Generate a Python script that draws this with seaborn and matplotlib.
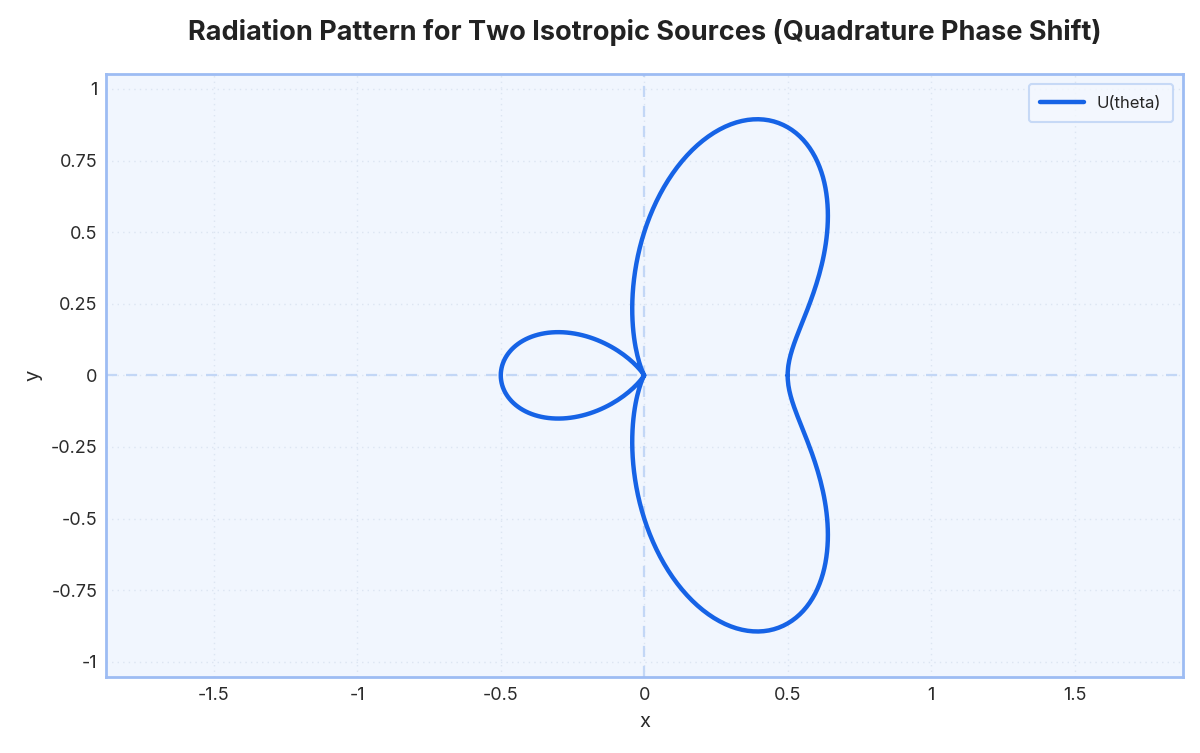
import numpy as np
import pandas as pd
import matplotlib
matplotlib.use("Agg")
import matplotlib.pyplot as plt
from matplotlib.ticker import FuncFormatter, MultipleLocator
import seaborn as sns

# pattern U(theta), upper half (0..180 deg, every 1 deg)
theta_deg = np.arange(0, 181, 1)
u_upper = [
    0.5000, 0.5002, 0.5010, 0.5022, 0.5038, 0.5060, 0.5086, 0.5117, 0.5153, 0.5193,
    0.5239, 0.5288, 0.5343, 0.5402, 0.5466, 0.5534, 0.5607, 0.5684, 0.5766, 0.5852,
    0.5942, 0.6036, 0.6134, 0.6236, 0.6341, 0.6451, 0.6563, 0.6679, 0.6797, 0.6919,
    0.7043, 0.7169, 0.7297, 0.7427, 0.7558, 0.7690, 0.7823, 0.7956, 0.8089, 0.8222,
    0.8353, 0.8483, 0.8611, 0.8736, 0.8859, 0.8978, 0.9094, 0.9205, 0.9311, 0.9411,
    0.9505, 0.9593, 0.9674, 0.9746, 0.9811, 0.9867, 0.9914, 0.9951, 0.9978, 0.9994,
    1.0000, 0.9994, 0.9977, 0.9948, 0.9907, 0.9853, 0.9787, 0.9708, 0.9617, 0.9513,
    0.9397, 0.9268, 0.9127, 0.8973, 0.8809, 0.8632, 0.8445, 0.8247, 0.8039, 0.7821,
    0.7594, 0.7360, 0.7117, 0.6868, 0.6613, 0.6352, 0.6087, 0.5818, 0.5547, 0.5274,
    0.5000, 0.4726, 0.4453, 0.4182, 0.3913, 0.3648, 0.3387, 0.3132, 0.2883, 0.2640,
    0.2406, 0.2179, 0.1961, 0.1753, 0.1555, 0.1368, 0.1191, 0.1027, 0.0873, 0.0732,
    0.0603, 0.0487, 0.0383, 0.0292, 0.0213, 0.0147, 0.0093, 0.0052, 0.0023, 0.0006,
    0.0000, 0.0006, 0.0022, 0.0049, 0.0086, 0.0133, 0.0189, 0.0254, 0.0326, 0.0407,
    0.0495, 0.0589, 0.0689, 0.0795, 0.0906, 0.1022, 0.1141, 0.1264, 0.1389, 0.1517,
    0.1647, 0.1778, 0.1911, 0.2044, 0.2177, 0.2310, 0.2442, 0.2573, 0.2703, 0.2831,
    0.2957, 0.3081, 0.3203, 0.3321, 0.3437, 0.3549, 0.3659, 0.3764, 0.3866, 0.3964,
    0.4058, 0.4148, 0.4234, 0.4316, 0.4393, 0.4466, 0.4534, 0.4598, 0.4657, 0.4712,
    0.4761, 0.4807, 0.4847, 0.4883, 0.4914, 0.4940, 0.4962, 0.4978, 0.4990, 0.4998,
    0.5000,
]
series_label = "U(theta)"
title = "Radiation Pattern for Two Isotropic Sources (Quadrature Phase Shift)"

# pattern is symmetric about the x axis -> mirror for 180..360
u_upper = np.array(u_upper)
ang = np.deg2rad(np.concatenate([theta_deg, 360 - theta_deg[::-1][1:]]))
u_all = np.concatenate([u_upper, u_upper[::-1][1:]])
df = pd.DataFrame({"x": u_all * np.cos(ang), "y": u_all * np.sin(ang)})

sns.set_theme(style="white")
plt.rcParams["font.family"] = ["Inter", "DejaVu Sans"]

fig = plt.figure(figsize=(12, 7.53), dpi=100)
ax = fig.add_axes([106 / 1200, 1 - 677 / 753, (1183 - 106) / 1200, (677 - 74) / 753])
ax.set_facecolor("#f1f6fe")

# dashed zero lines
ax.axhline(0, color="#c3d7f6", lw=1.6, ls=(0, (5, 4)), zorder=1)
ax.axvline(0, color="#c3d7f6", lw=1.6, ls=(0, (5, 4)), zorder=1)

sns.lineplot(data=df, x="x", y="y", sort=False, estimator=None, ax=ax,
             color="#1663e6", lw=3.2, label=series_label, zorder=3)

ax.set_xlim(-1.876, 1.878)
ax.set_ylim(-1.053, 1.052)
ax.xaxis.set_major_locator(MultipleLocator(0.5))
ax.yaxis.set_major_locator(MultipleLocator(0.25))
fmt = FuncFormatter(lambda v, p: "{:g}".format(round(v, 2)))
ax.xaxis.set_major_formatter(fmt)
ax.yaxis.set_major_formatter(fmt)
ax.grid(True, color="#dce5f2", ls=(0, (1, 3)), lw=1.0, zorder=0)
ax.tick_params(axis="both", length=0, labelsize=13, labelcolor="#2b2b2b")
ax.tick_params(axis="x", pad=7)
ax.tick_params(axis="y", pad=6)

for s in ax.spines.values():
    s.set_color("#9dbcf3")
    s.set_linewidth(2)

ax.set_xlabel("x", fontsize=14.5, color="#2b2b2b", labelpad=7)
ax.set_ylabel("y", fontsize=14.5, color="#2b2b2b", labelpad=6)
fig.text(645 / 1200, 1 - 32 / 753, title, ha="center", va="center",
         fontsize=19.5, fontweight="bold", color="#222222")

leg = ax.legend(loc="upper right", fontsize=12, frameon=True, handlelength=2.6,
                borderpad=0.7, borderaxespad=0.6, fancybox=True)
leg.get_frame().set_edgecolor("#bcd2f5")
leg.get_frame().set_linewidth(1.5)
leg.get_frame().set_facecolor("#f4f8fe")

fig.savefig("out.png", dpi=100)
